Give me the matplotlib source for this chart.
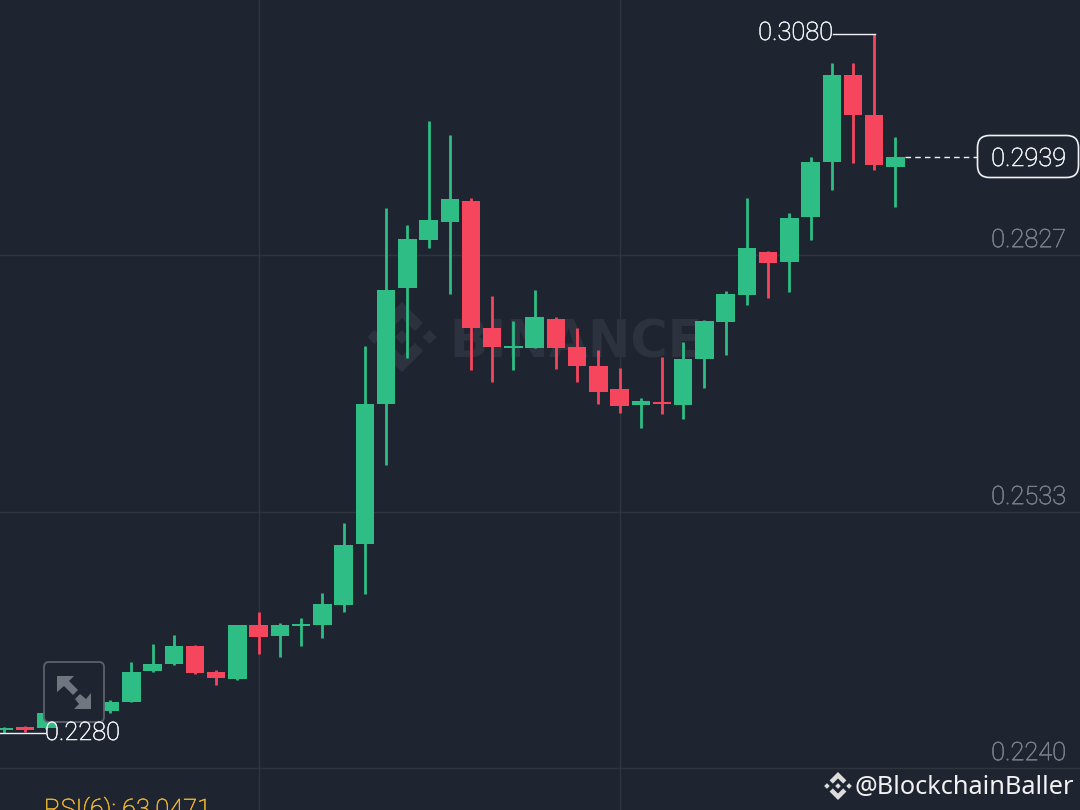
import matplotlib
matplotlib.use('Agg')
import matplotlib.pyplot as plt
import matplotlib.patheffects as pe
from matplotlib.patches import FancyBboxPatch, Polygon
from matplotlib.transforms import Affine2D, blended_transform_factory

plt.rcParams['font.family'] = ['Roboto', 'DejaVu Sans']

# candle values, left to right
opens = [.2283, .2287, .2286, .2303, .2312, .2305, .2316, .2351, .2359, .2380, .2350,
         .2342, .2404, .2391, .2402, .2404, .2427, .2496, .2657, .2789, .2844, .2865,
         .2889, .2743, .2720, .2721, .2754, .2722, .2700, .2674, .2655, .2659, .2655,
         .2708, .2750, .2781, .2830, .2819, .2870, .2933, .3033, .2987, .2928]
highs = [.2287, .2288, .2304, .2316, .2320, .2318, .2361, .2382, .2392, .2381, .2352,
         .2404, .2418, .2406, .2412, .2440, .2520, .2723, .2881, .2861, .2980, .2964,
         .2892, .2780, .2751, .2787, .2756, .2743, .2718, .2698, .2663, .2710, .2727,
         .2752, .2786, .2892, .2831, .2875, .2939, .3047, .3047, .3080, .2962]
lows = [.2280, .2281, .2285, .2300, .2309, .2303, .2315, .2350, .2358, .2348, .2335,
        .2341, .2370, .2367, .2380, .2389, .2418, .2439, .2587, .2709, .2835, .2782,
        .2695, .2682, .2695, .2721, .2697, .2682, .2657, .2646, .2629, .2645, .2639,
        .2675, .2713, .2770, .2778, .2785, .2844, .2901, .2932, .2924, .2882]
closes = [.2286, .2284, .2303, .2312, .2317, .2316, .2350, .2359, .2380, .2349, .2343,
          .2404, .2390, .2404, .2405, .2428, .2495, .2657, .2787, .2845, .2867, .2891,
          .2743, .2722, .2723, .2756, .2721, .2700, .2670, .2654, .2660, .2657, .2708,
          .2751, .2782, .2835, .2818, .2869, .2933, .3033, .2987, .2930, .2939]

price_ticks = [.2827, .2533, .2240]
price_labels = ['0.2827', '0.2533', '0.2240']
vgrid_idx = [12, 29]
high_label = '0.3080'
low_label = '0.2280'
last_label = '0.2939'
rsi_label = 'RSI(6): 63.0471'

BG = '#1f2530'
GRID = '#2f353f'
GREEN = '#2ebd85'
RED = '#f6465d'
WHITE = '#f0f2f4'
GRAY = '#7a818c'
MARK = '#2c323e'
NUM_SIZE = 18.3

fig = plt.figure(figsize=(10.8, 8.1), dpi=100, facecolor=BG)
ax = fig.add_axes([0, 0, 1, 1])
ax.set_facecolor(BG)
ax.set_xlim(-4 / 21.226, 1076 / 21.226)
ax.set_ylim(0.21919, 0.31187)
ax.axis('off')

# pixel coords, y down from the top, for the non data bits
pix = Affine2D().scale(1, -1).translate(0, 810)
pix_x = blended_transform_factory(pix, ax.transData)


def bnb_logo(cx, cy, r, color, z):
    shapes = [
        [(0, -.2), (.2, 0), (0, .2), (-.2, 0)],
        [(-.79, -.2), (-.59, 0), (-.79, .2), (-.99, 0)],
        [(.79, -.2), (.99, 0), (.79, .2), (.59, 0)],
        [(0, -1), (.6, -.4), (.37, -.17), (0, -.54), (-.37, -.17), (-.6, -.4)],
        [(0, 1), (.6, .4), (.37, .17), (0, .54), (-.37, .17), (-.6, .4)],
    ]
    for s in shapes:
        pts = [(cx + a * r, cy + b * r) for a, b in s]
        ax.add_patch(Polygon(pts, closed=True, fc=color, ec='none', transform=pix, zorder=z))


def thicken(txt, color):
    # roboto light is a bit too thin, regular a bit too heavy
    txt.set_path_effects([pe.withStroke(linewidth=0.4, foreground=color)])


# grid
for p in price_ticks:
    ax.axhline(p, color=GRID, lw=1.0, zorder=1)
for i in vgrid_idx:
    ax.axvline(i, color=GRID, lw=1.0, zorder=1)

# watermark
bnb_logo(402, 337, 35, MARK, 2)
ax.text(449, 357, 'BINANCE', transform=pix, color=MARK, fontsize=36.5, fontweight='bold',
        family=['DejaVu Sans'], ha='left', va='baseline', zorder=2)

# candles
xs = list(range(len(opens)))
colors = [GREEN if c >= o else RED for o, c in zip(opens, closes)]
ax.vlines(xs, lows, highs, colors=colors, lw=2.0, zorder=3)
bottoms = [min(o, c) for o, c in zip(opens, closes)]
heights = [abs(c - o) for o, c in zip(opens, closes)]
ax.bar(xs, heights, bottom=bottoms, width=0.87, color=colors, zorder=4)

# price axis labels
for p, lab in zip(price_ticks, price_labels):
    t = ax.annotate(lab, xy=(1066, p), xycoords=pix_x, xytext=(0, 2), textcoords='offset points',
                    color=GRAY, fontsize=NUM_SIZE, fontweight='light', ha='right', va='bottom', zorder=6)
    thicken(t, GRAY)

# high and low callouts
ax.plot([833, 875], [33.5, 33.5], color=WHITE, lw=1.0, transform=pix, zorder=5)
t = ax.text(833, 33, high_label, transform=pix, color=WHITE, fontsize=NUM_SIZE, fontweight='light',
            ha='right', va='center', zorder=6)
thicken(t, WHITE)
ax.plot([0, 45], [733, 733], color=WHITE, lw=1.0, transform=pix, zorder=5)

# expand button, sits over the candles
ax.add_patch(FancyBboxPatch((48, 666), 52, 52, boxstyle='round,pad=4,rounding_size=5', fc=BG, ec='#5b616c',
                            lw=1.3, transform=pix, zorder=7))
ax.add_patch(Polygon([(57, 676), (74, 676), (69, 681), (78, 690), (73, 695), (64, 686), (57, 692)],
                     closed=True, fc='#70767f', ec='none', transform=pix, zorder=8))
ax.add_patch(Polygon([(91, 709), (74, 709), (79, 704), (75, 699), (80, 694), (86, 699), (91, 693)],
                     closed=True, fc='#70767f', ec='none', transform=pix, zorder=8))

t = ax.text(45, 733, low_label, transform=pix, color=WHITE, fontsize=NUM_SIZE, fontweight='light',
            ha='left', va='center', zorder=9)
thicken(t, WHITE)

# last price
ax.plot([905, 977], [157, 157], color=WHITE, lw=1.0, ls=(0, (4, 3)), transform=pix, zorder=5)
ax.add_patch(FancyBboxPatch((989, 147), 78, 19, boxstyle='round,pad=11.5,rounding_size=12', fc=BG, ec=WHITE,
                            lw=1.2, transform=pix, zorder=6))
t = ax.text(1066, 159, last_label, transform=pix, color=WHITE, fontsize=NUM_SIZE, fontweight='light',
            ha='right', va='center', zorder=7)
thicken(t, WHITE)

# rsi line, cut off by the bottom edge
t = ax.text(44, 817, rsi_label, transform=pix, color='#e8b32e', fontsize=NUM_SIZE, fontweight='light',
            ha='left', va='baseline', zorder=6)
thicken(t, '#e8b32e')

# handle
bnb_logo(838, 786, 14, '#dcdcdc', 6)
ax.text(855, 788, '@BlockchainBaller', transform=pix, color='#f2f2f2', fontsize=18.2,
        family=['Noto Sans', 'DejaVu Sans'], ha='left', va='center', zorder=6)

fig.savefig('out.png', dpi=100, facecolor=BG)
